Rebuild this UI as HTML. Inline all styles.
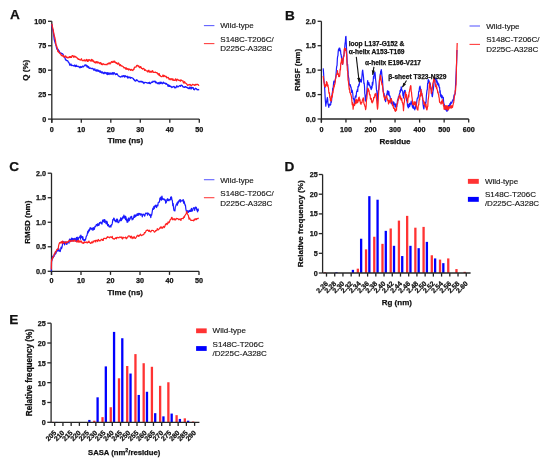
<!DOCTYPE html>
<html><head><meta charset="utf-8"><style>
html,body{margin:0;padding:0;background:#fff;width:550px;height:462px;overflow:hidden}
svg{display:block;filter:grayscale(0.0001)}
text{font-family:"Liberation Sans", sans-serif;fill:#111}
text[font-weight=bold]{stroke:#111;stroke-width:0.25px}
text[font-weight=normal]{stroke:#222;stroke-width:0.15px}
</style></head><body>
<svg width="550" height="462" viewBox="0 0 550 462">
<rect width="550" height="462" fill="#fff"/>
<text x="10.00" y="18.90" font-size="13.6" font-weight="bold" text-anchor="start" >A</text>
<line x1="51.80" y1="21.30" x2="51.80" y2="122.70" stroke="#262626" stroke-width="1.3"/>
<line x1="48.00" y1="119.10" x2="51.80" y2="119.10" stroke="#262626" stroke-width="1.3"/>
<text x="46.20" y="121.60" font-size="7.2" font-weight="bold" text-anchor="end" >0</text>
<line x1="48.00" y1="94.65" x2="51.80" y2="94.65" stroke="#262626" stroke-width="1.3"/>
<text x="46.20" y="97.15" font-size="7.2" font-weight="bold" text-anchor="end" >25</text>
<line x1="48.00" y1="70.20" x2="51.80" y2="70.20" stroke="#262626" stroke-width="1.3"/>
<text x="46.20" y="72.70" font-size="7.2" font-weight="bold" text-anchor="end" >50</text>
<line x1="48.00" y1="45.75" x2="51.80" y2="45.75" stroke="#262626" stroke-width="1.3"/>
<text x="46.20" y="48.25" font-size="7.2" font-weight="bold" text-anchor="end" >75</text>
<line x1="48.00" y1="21.30" x2="51.80" y2="21.30" stroke="#262626" stroke-width="1.3"/>
<text x="46.20" y="23.80" font-size="7.2" font-weight="bold" text-anchor="end" >100</text>
<line x1="51.80" y1="119.10" x2="199.30" y2="119.10" stroke="#262626" stroke-width="1.3"/>
<line x1="51.80" y1="119.10" x2="51.80" y2="122.70" stroke="#262626" stroke-width="1.3"/>
<text x="51.80" y="131.70" font-size="7.2" font-weight="bold" text-anchor="middle" >0</text>
<line x1="81.30" y1="119.10" x2="81.30" y2="122.70" stroke="#262626" stroke-width="1.3"/>
<text x="81.30" y="131.70" font-size="7.2" font-weight="bold" text-anchor="middle" >10</text>
<line x1="110.80" y1="119.10" x2="110.80" y2="122.70" stroke="#262626" stroke-width="1.3"/>
<text x="110.80" y="131.70" font-size="7.2" font-weight="bold" text-anchor="middle" >20</text>
<line x1="140.30" y1="119.10" x2="140.30" y2="122.70" stroke="#262626" stroke-width="1.3"/>
<text x="140.30" y="131.70" font-size="7.2" font-weight="bold" text-anchor="middle" >30</text>
<line x1="169.80" y1="119.10" x2="169.80" y2="122.70" stroke="#262626" stroke-width="1.3"/>
<text x="169.80" y="131.70" font-size="7.2" font-weight="bold" text-anchor="middle" >40</text>
<line x1="199.30" y1="119.10" x2="199.30" y2="122.70" stroke="#262626" stroke-width="1.3"/>
<text x="199.30" y="131.70" font-size="7.2" font-weight="bold" text-anchor="middle" >50</text>
<text x="125.50" y="143.40" font-size="8" font-weight="bold" text-anchor="middle" >Time (ns)</text>
<text x="0" y="0" font-size="8" font-weight="bold" text-anchor="middle" transform="translate(28.40,70.20) rotate(-90)">Q (%)</text>
<path d="M51.80,24.41 L52.50,28.90 L53.10,30.85 L53.70,34.64 L54.30,39.87 L54.82,41.59 L55.34,43.38 L55.86,44.58 L56.38,47.09 L56.90,49.01 L57.42,49.48 L57.94,49.16 L58.46,50.22 L58.98,50.67 L59.50,51.85 L60.02,52.91 L60.54,53.34 L61.06,53.05 L61.58,53.37 L62.10,53.54 L62.68,53.94 L63.27,54.79 L63.85,56.53 L64.43,57.10 L65.02,58.09 L65.60,59.98 L66.14,59.90 L66.67,60.62 L67.21,60.62 L67.75,60.85 L68.29,62.10 L68.83,62.37 L69.36,63.77 L69.90,65.40 L70.44,64.85 L70.98,63.96 L71.51,65.49 L72.05,65.39 L72.59,65.37 L73.12,65.81 L73.66,65.63 L74.20,65.78 L74.71,65.06 L75.22,66.46 L75.72,66.57 L76.23,65.12 L76.74,66.46 L77.25,66.53 L77.76,66.17 L78.27,66.46 L78.78,66.53 L79.28,67.55 L79.79,66.85 L80.30,67.66 L80.82,66.53 L81.34,67.41 L81.86,67.26 L82.38,66.20 L82.90,66.24 L83.42,66.76 L83.94,66.19 L84.46,65.53 L84.98,64.82 L85.50,64.85 L86.04,65.92 L86.58,65.18 L87.11,66.99 L87.65,66.04 L88.19,67.65 L88.72,66.77 L89.26,68.39 L89.80,68.21 L90.30,67.99 L90.80,68.21 L91.30,68.66 L91.80,68.72 L92.30,68.35 L92.80,68.33 L93.30,69.12 L93.80,70.15 L94.30,69.72 L94.80,68.81 L95.30,70.48 L95.80,70.48 L96.30,71.03 L96.80,69.78 L97.33,71.09 L97.86,69.92 L98.39,71.31 L98.92,70.75 L99.45,70.85 L99.98,72.35 L100.52,71.01 L101.05,72.04 L101.58,72.91 L102.11,71.89 L102.64,72.02 L103.17,73.56 L103.70,72.85 L104.22,73.52 L104.74,72.24 L105.26,72.99 L105.78,72.70 L106.30,73.80 L106.82,72.71 L107.34,74.54 L107.86,72.77 L108.38,74.27 L108.90,72.94 L109.42,73.37 L109.94,74.45 L110.46,73.09 L110.98,73.11 L111.50,74.08 L112.02,73.43 L112.54,72.71 L113.06,74.56 L113.58,72.84 L114.10,72.57 L114.63,73.42 L115.16,74.19 L115.69,74.68 L116.22,73.65 L116.75,74.33 L117.28,73.95 L117.82,75.01 L118.35,75.88 L118.88,76.06 L119.41,76.61 L119.94,76.55 L120.47,76.99 L121.00,76.91 L121.50,76.42 L122.00,75.90 L122.50,76.75 L123.00,76.03 L123.50,75.58 L124.00,76.25 L124.50,77.07 L125.00,75.56 L125.55,76.64 L126.10,76.44 L126.65,76.85 L127.20,76.29 L127.75,78.09 L128.30,76.87 L128.85,77.74 L129.40,77.54 L129.93,76.94 L130.45,78.22 L130.98,77.58 L131.51,77.61 L132.04,77.77 L132.56,78.22 L133.09,78.29 L133.62,79.57 L134.15,79.52 L134.67,80.67 L135.20,80.77 L135.74,81.08 L136.27,79.74 L136.81,80.35 L137.35,80.15 L137.89,81.02 L138.43,81.27 L138.96,81.81 L139.50,81.82 L140.05,81.13 L140.60,81.67 L141.15,82.09 L141.70,81.26 L142.25,81.53 L142.80,82.49 L143.35,82.11 L143.90,83.55 L144.45,82.58 L145.00,82.30 L145.55,82.46 L146.10,82.56 L146.65,82.53 L147.20,83.14 L147.75,83.03 L148.30,82.72 L148.83,83.26 L149.35,82.27 L149.88,83.53 L150.41,83.52 L150.94,82.92 L151.46,82.20 L151.99,82.23 L152.52,82.24 L153.05,81.06 L153.57,81.66 L154.10,81.75 L154.65,81.24 L155.20,81.24 L155.75,82.83 L156.30,82.13 L156.85,82.61 L157.40,83.59 L157.95,83.15 L158.50,82.68 L159.03,84.07 L159.55,82.84 L160.08,82.14 L160.61,83.47 L161.14,82.30 L161.66,82.71 L162.19,83.78 L162.72,83.45 L163.25,82.13 L163.77,83.00 L164.30,82.92 L164.84,83.40 L165.38,83.17 L165.91,84.25 L166.45,83.55 L166.99,84.29 L167.53,84.80 L168.06,86.25 L168.60,84.85 L169.15,86.43 L169.70,85.53 L170.25,86.52 L170.80,86.38 L171.35,86.75 L171.90,87.56 L172.45,87.07 L173.00,86.74 L173.55,86.62 L174.10,86.41 L174.65,87.83 L175.20,87.28 L175.75,87.79 L176.30,87.14 L176.85,85.67 L177.40,86.82 L177.94,86.92 L178.47,86.67 L179.01,86.08 L179.55,85.67 L180.09,85.73 L180.62,86.27 L181.16,85.08 L181.70,85.45 L182.25,85.62 L182.80,86.83 L183.35,86.80 L183.90,87.31 L184.45,87.38 L185.00,86.57 L185.55,86.70 L186.10,87.48 L186.65,87.07 L187.20,87.46 L187.75,88.01 L188.30,88.54 L188.85,87.92 L189.40,88.44 L189.95,87.04 L190.50,87.61 L191.04,89.02 L191.57,87.44 L192.11,88.11 L192.65,87.53 L193.19,87.70 L193.73,89.44 L194.26,89.75 L194.80,89.20 L195.35,88.27 L195.90,88.72 L196.45,88.70 L197.00,89.69 L197.55,89.82 L198.10,89.45 L198.65,89.74 L199.20,89.80" fill="none" stroke="#1a1aff" stroke-width="1.3" stroke-linejoin="round"/>
<path d="M51.80,23.98 L52.50,27.09 L53.10,29.67 L53.70,33.07 L54.30,36.05 L54.87,37.80 L55.43,40.56 L56.00,45.07 L56.60,45.95 L57.20,47.94 L57.80,51.49 L58.32,51.14 L58.84,52.57 L59.36,52.55 L59.88,53.58 L60.40,53.30 L60.90,54.64 L61.40,55.48 L61.90,55.16 L62.40,55.97 L62.90,56.20 L63.40,55.36 L63.90,57.12 L64.47,56.87 L65.03,56.37 L65.60,55.91 L66.17,57.66 L66.73,56.96 L67.30,57.54 L67.83,57.79 L68.36,57.39 L68.89,57.73 L69.42,56.61 L69.95,57.36 L70.48,56.57 L71.02,57.49 L71.55,57.30 L72.08,55.67 L72.61,55.68 L73.14,55.77 L73.67,57.20 L74.20,56.07 L74.70,56.75 L75.20,56.40 L75.70,57.11 L76.20,57.17 L76.70,57.40 L77.20,58.17 L77.70,58.47 L78.23,59.27 L78.76,58.99 L79.29,59.64 L79.82,59.66 L80.35,60.09 L80.88,59.61 L81.42,58.76 L81.95,60.31 L82.48,60.68 L83.01,60.72 L83.54,60.22 L84.07,60.67 L84.60,59.82 L85.10,61.06 L85.60,60.55 L86.10,59.97 L86.60,59.53 L87.10,61.11 L87.60,61.38 L88.10,59.58 L88.60,61.00 L89.10,60.22 L89.60,59.70 L90.10,59.99 L90.60,60.94 L91.10,61.15 L91.60,59.49 L92.13,60.84 L92.66,59.91 L93.19,61.46 L93.72,60.89 L94.25,62.20 L94.78,62.61 L95.32,61.86 L95.85,63.06 L96.38,61.89 L96.91,61.63 L97.44,62.88 L97.97,61.96 L98.50,62.49 L99.03,63.02 L99.56,63.52 L100.09,62.71 L100.62,62.58 L101.15,64.34 L101.68,63.33 L102.22,64.72 L102.75,64.69 L103.28,63.76 L103.81,64.02 L104.34,64.24 L104.87,64.59 L105.40,64.59 L105.91,64.37 L106.42,64.33 L106.94,64.82 L107.45,63.80 L107.96,63.50 L108.47,63.92 L108.98,62.80 L109.49,62.78 L110.01,63.98 L110.52,62.91 L111.03,62.81 L111.54,61.59 L112.05,62.24 L112.56,62.42 L113.08,61.15 L113.59,62.18 L114.10,62.06 L114.62,61.18 L115.14,62.57 L115.66,62.51 L116.18,63.20 L116.70,62.81 L117.22,63.77 L117.74,64.10 L118.26,62.92 L118.78,63.26 L119.30,64.75 L119.82,65.68 L120.34,64.61 L120.85,65.38 L121.37,66.00 L121.89,65.81 L122.41,66.26 L122.93,66.51 L123.45,66.97 L123.96,67.78 L124.48,67.55 L125.00,68.05 L125.52,69.00 L126.04,67.67 L126.56,68.91 L127.09,69.40 L127.61,68.71 L128.13,68.69 L128.65,70.01 L129.17,69.03 L129.69,69.09 L130.21,69.74 L130.74,70.42 L131.26,69.39 L131.78,69.99 L132.30,70.17 L132.84,70.57 L133.38,69.18 L133.91,69.41 L134.45,67.44 L134.99,67.17 L135.53,67.20 L136.06,67.07 L136.60,65.60 L137.15,65.38 L137.70,65.39 L138.25,66.43 L138.80,65.98 L139.35,67.44 L139.90,67.73 L140.45,66.64 L141.00,67.06 L141.53,68.45 L142.05,68.46 L142.58,69.12 L143.11,68.54 L143.64,68.44 L144.16,69.10 L144.69,70.44 L145.22,69.73 L145.75,70.22 L146.27,70.70 L146.80,71.04 L147.33,71.02 L147.85,72.04 L148.38,70.51 L148.91,70.21 L149.44,72.09 L149.96,71.96 L150.49,72.17 L151.02,71.07 L151.55,72.10 L152.07,72.05 L152.60,70.64 L153.15,71.97 L153.70,72.42 L154.25,72.35 L154.80,72.34 L155.35,72.15 L155.90,72.53 L156.45,72.58 L157.00,72.54 L157.55,73.88 L158.10,73.57 L158.65,74.92 L159.20,73.69 L159.75,75.71 L160.30,75.59 L160.85,76.35 L161.40,76.59 L161.94,76.66 L162.47,76.08 L163.01,75.01 L163.55,76.54 L164.09,75.46 L164.62,75.77 L165.16,76.56 L165.70,76.35 L166.25,76.49 L166.80,77.90 L167.35,77.61 L167.90,77.43 L168.45,77.62 L169.00,79.20 L169.55,78.79 L170.10,79.76 L170.65,78.95 L171.20,78.69 L171.75,79.42 L172.30,80.03 L172.85,78.79 L173.40,80.08 L173.95,80.39 L174.50,80.21 L175.03,80.34 L175.55,78.80 L176.08,80.13 L176.61,80.69 L177.14,79.15 L177.66,79.69 L178.19,79.77 L178.72,80.38 L179.25,80.26 L179.77,80.45 L180.30,81.15 L180.84,79.84 L181.38,80.18 L181.91,80.57 L182.45,80.80 L182.99,80.92 L183.53,82.97 L184.06,82.97 L184.60,81.67 L185.18,83.00 L185.76,83.13 L186.34,83.63 L186.92,84.20 L187.50,85.29 L188.05,85.22 L188.60,84.82 L189.15,84.53 L189.70,84.86 L190.25,84.50 L190.80,85.41 L191.35,85.78 L191.90,85.16 L192.45,84.42 L193.00,84.48 L193.55,84.73 L194.10,85.06 L194.65,85.28 L195.20,84.34 L195.75,85.04 L196.30,84.55 L196.88,84.30 L197.46,84.32 L198.04,84.71 L198.62,85.27 L199.20,85.00" fill="none" stroke="#ff2020" stroke-width="1.3" stroke-linejoin="round"/>
<line x1="203.90" y1="25.60" x2="214.40" y2="25.60" stroke="#6060ff" stroke-width="1.1"/>
<line x1="203.90" y1="43.60" x2="214.40" y2="43.60" stroke="#ff4040" stroke-width="1.1"/>
<text x="220.30" y="28.40" font-size="8" font-weight="normal" text-anchor="start" >Wild-type</text>
<text x="220.30" y="41.60" font-size="8" font-weight="normal" text-anchor="start" >S148C-T206C/</text>
<text x="220.30" y="51.40" font-size="8" font-weight="normal" text-anchor="start" >D225C-A328C</text>
<text x="285.00" y="19.90" font-size="13.6" font-weight="bold" text-anchor="start" >B</text>
<line x1="321.40" y1="21.30" x2="321.40" y2="122.60" stroke="#262626" stroke-width="1.3"/>
<line x1="317.60" y1="119.00" x2="321.40" y2="119.00" stroke="#262626" stroke-width="1.3"/>
<text x="315.80" y="121.50" font-size="7.2" font-weight="bold" text-anchor="end" >0.0</text>
<line x1="317.60" y1="94.58" x2="321.40" y2="94.58" stroke="#262626" stroke-width="1.3"/>
<text x="315.80" y="97.08" font-size="7.2" font-weight="bold" text-anchor="end" >0.5</text>
<line x1="317.60" y1="70.15" x2="321.40" y2="70.15" stroke="#262626" stroke-width="1.3"/>
<text x="315.80" y="72.65" font-size="7.2" font-weight="bold" text-anchor="end" >1.0</text>
<line x1="317.60" y1="45.72" x2="321.40" y2="45.72" stroke="#262626" stroke-width="1.3"/>
<text x="315.80" y="48.22" font-size="7.2" font-weight="bold" text-anchor="end" >1.5</text>
<line x1="317.60" y1="21.30" x2="321.40" y2="21.30" stroke="#262626" stroke-width="1.3"/>
<text x="315.80" y="23.80" font-size="7.2" font-weight="bold" text-anchor="end" >2.0</text>
<line x1="321.40" y1="119.00" x2="468.70" y2="119.00" stroke="#262626" stroke-width="1.3"/>
<line x1="321.40" y1="119.00" x2="321.40" y2="122.60" stroke="#262626" stroke-width="1.3"/>
<text x="321.40" y="131.60" font-size="7.2" font-weight="bold" text-anchor="middle" >0</text>
<line x1="345.95" y1="119.00" x2="345.95" y2="122.60" stroke="#262626" stroke-width="1.3"/>
<text x="345.95" y="131.60" font-size="7.2" font-weight="bold" text-anchor="middle" >100</text>
<line x1="370.50" y1="119.00" x2="370.50" y2="122.60" stroke="#262626" stroke-width="1.3"/>
<text x="370.50" y="131.60" font-size="7.2" font-weight="bold" text-anchor="middle" >200</text>
<line x1="395.05" y1="119.00" x2="395.05" y2="122.60" stroke="#262626" stroke-width="1.3"/>
<text x="395.05" y="131.60" font-size="7.2" font-weight="bold" text-anchor="middle" >300</text>
<line x1="419.60" y1="119.00" x2="419.60" y2="122.60" stroke="#262626" stroke-width="1.3"/>
<text x="419.60" y="131.60" font-size="7.2" font-weight="bold" text-anchor="middle" >400</text>
<line x1="444.15" y1="119.00" x2="444.15" y2="122.60" stroke="#262626" stroke-width="1.3"/>
<text x="444.15" y="131.60" font-size="7.2" font-weight="bold" text-anchor="middle" >500</text>
<line x1="468.70" y1="119.00" x2="468.70" y2="122.60" stroke="#262626" stroke-width="1.3"/>
<text x="468.70" y="131.60" font-size="7.2" font-weight="bold" text-anchor="middle" >600</text>
<text x="395.00" y="143.60" font-size="8" font-weight="bold" text-anchor="middle" >Residue</text>
<text x="0" y="0" font-size="8" font-weight="bold" text-anchor="middle" transform="translate(300.30,70.00) rotate(-90)">RMSF (nm)</text>
<path d="M323.20,68.34 L323.57,72.92 L323.93,79.38 L324.30,83.48 L324.60,87.09 L324.90,92.57 L325.20,98.84 L325.50,102.32 L325.80,106.17 L326.12,102.62 L326.44,102.84 L326.76,100.54 L327.08,98.92 L327.40,97.47 L327.68,99.30 L327.96,103.80 L328.24,104.73 L328.52,105.99 L328.80,107.32 L329.11,104.15 L329.43,104.16 L329.74,105.06 L330.05,105.02 L330.36,105.06 L330.68,104.67 L330.99,100.68 L331.30,102.47 L331.59,100.33 L331.88,97.18 L332.16,93.31 L332.45,92.18 L332.74,88.07 L333.03,89.36 L333.31,86.63 L333.60,82.81 L333.89,81.16 L334.17,83.28 L334.46,81.25 L334.74,82.05 L335.03,81.35 L335.31,79.29 L335.60,78.32 L335.89,76.22 L336.18,72.56 L336.47,68.45 L336.76,66.16 L337.05,65.48 L337.34,59.17 L337.63,56.26 L337.92,55.90 L338.21,51.45 L338.50,49.65 L338.80,49.07 L339.10,48.21 L339.40,50.79 L339.77,48.19 L340.13,50.08 L340.50,50.09 L340.82,54.10 L341.13,54.65 L341.45,57.12 L341.77,60.95 L342.08,61.19 L342.40,64.36 L342.69,64.06 L342.97,58.72 L343.26,56.73 L343.54,55.65 L343.83,56.20 L344.11,53.72 L344.40,50.24 L344.72,47.50 L345.04,43.66 L345.36,41.74 L345.68,36.75 L346.00,36.47 L346.32,44.22 L346.65,51.35 L346.98,57.26 L347.30,65.12 L347.62,64.23 L347.93,68.67 L348.25,74.90 L348.57,77.31 L348.88,78.96 L349.20,84.55 L349.50,84.11 L349.80,85.96 L350.10,84.63 L350.40,85.16 L350.70,87.25 L351.00,86.88 L351.30,88.94 L351.60,92.47 L351.90,90.68 L352.20,90.24 L352.52,92.01 L352.83,94.18 L353.15,98.50 L353.47,98.26 L353.78,99.56 L354.10,100.33 L354.39,103.39 L354.67,100.11 L354.96,98.33 L355.24,96.85 L355.53,96.00 L355.81,95.67 L356.10,97.08 L356.43,93.19 L356.77,91.15 L357.10,91.56 L357.40,89.30 L357.70,91.39 L358.00,86.34 L358.30,86.93 L358.60,86.80 L358.90,84.00 L359.20,85.35 L359.50,82.70 L359.80,81.26 L360.10,81.61 L360.40,79.56 L360.70,80.85 L361.00,79.69 L361.30,82.11 L361.65,79.56 L362.00,75.79 L362.35,71.44 L362.70,70.12 L363.00,72.75 L363.30,75.28 L363.60,78.06 L363.90,83.55 L364.20,83.02 L364.48,86.01 L364.76,93.24 L365.04,95.03 L365.32,100.28 L365.60,101.07 L365.90,100.45 L366.20,96.55 L366.50,94.34 L366.80,91.32 L367.10,87.40 L367.40,82.82 L367.70,80.53 L368.00,83.84 L368.30,84.36 L368.60,84.87 L368.90,82.68 L369.20,84.49 L369.50,85.52 L369.80,85.23 L370.15,87.04 L370.50,86.82 L370.85,88.43 L371.20,89.62 L371.48,86.66 L371.76,88.42 L372.04,87.45 L372.32,82.45 L372.60,85.27 L372.90,83.62 L373.20,80.71 L373.50,76.35 L373.80,78.50 L374.10,73.49 L374.40,75.58 L374.70,72.64 L374.98,72.23 L375.26,74.96 L375.54,79.27 L375.82,81.24 L376.10,84.28 L376.45,89.66 L376.80,91.11 L377.15,94.74 L377.50,103.36 L377.80,96.13 L378.10,96.70 L378.40,90.12 L378.70,89.95 L379.00,86.60 L379.30,83.79 L379.60,79.12 L379.88,78.82 L380.17,74.09 L380.45,74.40 L380.73,71.15 L381.02,71.87 L381.30,69.60 L381.62,71.91 L381.93,75.78 L382.25,77.22 L382.57,80.88 L382.88,86.98 L383.20,90.15 L383.50,93.42 L383.80,93.90 L384.10,93.45 L384.40,96.05 L384.70,99.45 L385.00,99.99 L385.30,99.35 L385.60,101.57 L385.90,100.11 L386.20,95.43 L386.50,96.03 L386.80,93.91 L387.10,94.28 L387.40,90.77 L387.70,90.83 L388.00,92.34 L388.30,94.85 L388.60,91.42 L388.90,91.90 L389.20,94.53 L389.50,96.10 L389.80,95.67 L390.10,96.54 L390.40,99.62 L390.70,100.47 L391.00,98.57 L391.30,103.36 L391.60,101.56 L391.90,102.13 L392.20,104.58 L392.50,102.86 L392.80,104.61 L393.10,101.94 L393.40,105.15 L393.70,102.18 L393.98,102.41 L394.26,104.27 L394.54,103.94 L394.82,105.18 L395.10,107.13 L395.38,106.63 L395.66,103.87 L395.94,105.57 L396.22,106.95 L396.50,107.04 L396.81,106.43 L397.13,103.80 L397.44,100.39 L397.76,99.52 L398.07,100.56 L398.39,96.78 L398.70,96.97 L398.98,97.03 L399.26,94.54 L399.54,93.85 L399.82,92.64 L400.10,90.43 L400.38,92.16 L400.66,89.28 L400.94,90.33 L401.22,86.75 L401.50,88.32 L401.79,89.48 L402.07,90.23 L402.36,90.99 L402.64,91.18 L402.93,95.46 L403.21,95.18 L403.50,98.01 L403.85,93.91 L404.20,91.91 L404.55,90.41 L404.90,91.56 L405.18,90.48 L405.46,95.37 L405.74,94.74 L406.02,97.33 L406.30,98.04 L406.61,100.63 L406.93,99.71 L407.24,102.47 L407.56,106.22 L407.87,104.29 L408.19,107.78 L408.50,107.74 L408.80,106.62 L409.10,104.40 L409.40,103.39 L409.70,106.48 L410.00,104.95 L410.30,103.82 L410.60,102.85 L410.90,104.09 L411.20,101.20 L411.50,103.67 L411.80,103.88 L412.10,104.83 L412.40,107.03 L412.70,106.85 L413.00,108.16 L413.30,104.81 L413.60,107.57 L413.90,108.07 L414.20,108.78 L414.50,108.62 L414.80,109.96 L415.10,106.63 L415.40,108.38 L415.70,105.09 L416.00,104.94 L416.30,105.25 L416.60,103.40 L416.90,100.66 L417.18,98.90 L417.46,97.92 L417.74,97.83 L418.02,98.04 L418.30,96.21 L418.58,92.60 L418.86,91.19 L419.14,91.62 L419.42,87.86 L419.70,87.01 L420.00,86.06 L420.30,87.61 L420.60,89.98 L420.90,91.45 L421.20,91.90 L421.50,91.60 L421.80,94.98 L422.10,95.76 L422.40,95.92 L422.70,97.74 L423.00,103.94 L423.30,106.22 L423.60,108.13 L423.90,108.96 L424.21,106.47 L424.53,104.30 L424.84,103.83 L425.16,102.48 L425.47,104.38 L425.79,103.03 L426.10,101.32 L426.40,95.53 L426.70,92.89 L427.00,90.13 L427.30,89.96 L427.60,83.48 L427.90,83.21 L428.20,79.70 L428.50,80.12 L428.80,82.95 L429.10,80.90 L429.40,83.06 L429.70,82.46 L430.00,83.21 L430.30,83.94 L430.60,86.59 L430.90,87.14 L431.20,88.27 L431.50,93.77 L431.80,92.07 L432.10,96.12 L432.40,96.69 L432.70,94.20 L433.00,91.25 L433.30,89.95 L433.60,87.01 L433.90,83.69 L434.20,80.38 L434.50,78.35 L434.80,79.10 L435.10,78.96 L435.40,79.35 L435.70,78.44 L436.00,82.09 L436.30,81.12 L436.60,79.90 L436.90,80.74 L437.20,84.25 L437.50,81.93 L437.80,82.92 L438.10,84.60 L438.40,85.79 L438.70,83.85 L439.00,85.70 L439.30,87.46 L439.60,87.32 L439.90,92.66 L440.20,90.48 L440.50,96.22 L440.80,94.27 L441.11,94.50 L441.43,97.76 L441.74,97.87 L442.06,95.48 L442.37,97.11 L442.69,96.98 L443.00,98.26 L443.30,97.41 L443.60,101.73 L443.90,103.98 L444.20,104.21 L444.50,106.65 L444.80,108.22 L445.10,107.27 L445.40,109.64 L445.70,109.90 L446.00,109.13 L446.30,107.33 L446.60,109.90 L446.90,111.50 L447.20,109.14 L447.50,110.03 L447.80,110.52 L448.10,108.60 L448.40,105.51 L448.70,107.51 L449.00,105.24 L449.30,107.28 L449.60,105.81 L449.90,103.65 L450.20,105.64 L450.50,103.85 L450.80,101.99 L451.10,103.57 L451.40,103.22 L451.70,102.83 L452.00,102.39 L452.30,101.00 L452.60,100.77 L452.90,99.96 L453.20,99.22 L453.50,100.84 L453.78,97.10 L454.07,94.96 L454.35,96.79 L454.63,94.89 L454.92,94.15 L455.20,93.43 L455.57,84.87 L455.93,77.62 L456.30,70.01 L456.65,62.19 L457.00,50.00" fill="none" stroke="#1a1aff" stroke-width="1.2" stroke-linejoin="round"/>
<path d="M323.20,76.04 L323.48,78.40 L323.77,80.47 L324.05,82.95 L324.33,83.89 L324.62,86.52 L324.90,84.43 L325.22,85.70 L325.53,87.15 L325.85,85.21 L326.17,85.66 L326.48,81.55 L326.80,82.46 L327.09,82.60 L327.37,85.02 L327.66,86.27 L327.94,84.91 L328.23,86.93 L328.51,88.32 L328.80,92.23 L329.12,93.52 L329.43,92.80 L329.75,97.56 L330.07,96.61 L330.38,100.67 L330.70,100.46 L330.99,98.51 L331.28,100.93 L331.57,96.62 L331.86,95.25 L332.14,97.22 L332.43,95.34 L332.72,91.37 L333.01,92.93 L333.30,89.67 L333.62,88.82 L333.93,85.27 L334.25,87.04 L334.57,84.47 L334.88,84.22 L335.20,82.43 L335.49,78.84 L335.77,78.14 L336.06,76.31 L336.35,75.24 L336.64,73.91 L336.93,73.98 L337.21,74.33 L337.50,70.71 L337.79,74.24 L338.07,73.30 L338.36,73.74 L338.64,76.53 L338.93,75.60 L339.21,75.43 L339.50,76.72 L339.82,74.77 L340.13,68.98 L340.45,70.09 L340.77,62.97 L341.08,63.23 L341.40,60.72 L341.72,58.26 L342.04,62.83 L342.36,62.15 L342.68,64.27 L343.00,62.94 L343.32,59.49 L343.64,56.46 L343.96,56.24 L344.28,49.28 L344.60,48.13 L344.88,49.62 L345.17,50.41 L345.45,48.52 L345.73,49.29 L346.02,50.78 L346.30,52.61 L346.59,54.13 L346.87,61.41 L347.16,66.08 L347.44,70.81 L347.73,71.65 L348.01,80.10 L348.30,80.80 L348.62,83.53 L348.93,86.35 L349.25,89.34 L349.57,88.43 L349.88,92.63 L350.20,92.60 L350.49,93.03 L350.78,94.51 L351.07,95.36 L351.36,96.38 L351.65,98.16 L351.94,101.99 L352.23,104.81 L352.52,102.59 L352.81,103.55 L353.10,109.14 L353.40,106.57 L353.70,105.43 L354.00,104.10 L354.30,105.09 L354.60,105.54 L354.90,103.32 L355.20,102.60 L355.50,100.41 L355.80,103.61 L356.10,99.14 L356.43,101.27 L356.77,102.89 L357.10,99.87 L357.40,102.12 L357.70,102.68 L358.00,100.87 L358.30,101.17 L358.60,97.77 L358.90,98.81 L359.20,97.16 L359.50,100.82 L359.80,99.00 L360.10,100.29 L360.40,103.30 L360.70,103.25 L361.00,104.39 L361.30,102.70 L361.61,102.25 L361.93,102.71 L362.24,101.01 L362.56,99.58 L362.87,99.48 L363.19,97.74 L363.50,98.16 L363.80,102.55 L364.10,104.12 L364.40,104.36 L364.70,105.50 L365.00,106.49 L365.30,107.09 L365.60,109.60 L365.90,108.53 L366.20,105.59 L366.50,100.05 L366.80,98.60 L367.10,95.24 L367.40,91.57 L367.70,88.12 L368.00,89.54 L368.30,88.80 L368.60,91.30 L368.90,90.44 L369.20,92.34 L369.50,94.59 L369.80,95.24 L370.10,94.71 L370.40,98.79 L370.70,98.70 L371.00,99.61 L371.30,98.32 L371.60,101.89 L371.90,101.80 L372.20,102.86 L372.50,101.14 L372.80,101.89 L373.10,100.35 L373.40,100.21 L373.70,97.43 L374.00,97.93 L374.30,97.53 L374.60,97.12 L374.90,94.20 L375.20,95.55 L375.50,94.86 L375.80,93.24 L376.10,93.69 L376.45,98.36 L376.80,101.18 L377.15,105.98 L377.50,109.13 L377.78,107.51 L378.07,103.39 L378.35,96.80 L378.63,93.18 L378.92,88.73 L379.20,84.21 L379.50,79.63 L379.80,80.18 L380.10,77.18 L380.40,75.43 L380.70,76.17 L381.00,78.87 L381.30,81.35 L381.60,82.56 L381.90,84.74 L382.20,83.51 L382.50,85.90 L382.80,88.95 L383.10,91.69 L383.40,91.61 L383.70,95.48 L384.00,97.05 L384.30,96.27 L384.60,99.97 L384.90,98.50 L385.20,97.34 L385.50,97.29 L385.80,97.70 L386.10,96.70 L386.40,96.35 L386.70,95.26 L387.00,97.95 L387.30,98.37 L387.60,100.19 L387.90,100.90 L388.20,100.15 L388.50,103.87 L388.80,100.70 L389.08,102.20 L389.36,101.37 L389.64,101.66 L389.92,100.09 L390.20,102.96 L390.48,100.67 L390.76,98.90 L391.04,101.16 L391.32,98.60 L391.60,100.30 L391.91,100.48 L392.22,102.63 L392.53,105.38 L392.84,105.86 L393.16,105.19 L393.47,108.01 L393.78,108.35 L394.09,108.24 L394.40,108.33 L394.70,110.12 L395.00,109.78 L395.30,111.31 L395.60,111.16 L395.90,109.38 L396.20,108.04 L396.50,110.23 L396.81,104.70 L397.13,103.57 L397.44,103.99 L397.76,102.61 L398.07,98.92 L398.39,99.47 L398.70,99.02 L399.02,96.38 L399.35,96.25 L399.68,94.97 L400.00,94.88 L400.30,98.49 L400.60,96.50 L400.90,99.67 L401.20,100.08 L401.50,99.29 L401.80,98.43 L402.10,102.22 L402.45,102.18 L402.80,103.93 L403.15,105.60 L403.50,110.63 L403.80,106.25 L404.10,103.13 L404.40,101.76 L404.70,97.98 L405.00,97.96 L405.30,94.97 L405.60,92.09 L405.90,95.45 L406.20,96.87 L406.50,94.50 L406.80,98.00 L407.10,98.08 L407.40,102.20 L407.70,102.74 L407.99,98.69 L408.28,97.10 L408.57,94.91 L408.86,96.89 L409.15,92.14 L409.44,91.84 L409.73,89.56 L410.02,88.62 L410.31,86.75 L410.60,85.67 L410.90,85.73 L411.20,91.37 L411.50,92.17 L411.80,96.00 L412.10,97.95 L412.40,100.59 L412.70,104.43 L412.98,104.00 L413.26,103.41 L413.54,104.96 L413.82,104.14 L414.10,101.56 L414.38,102.37 L414.66,103.12 L414.94,105.01 L415.22,104.75 L415.50,103.10 L415.80,101.76 L416.10,106.12 L416.40,105.58 L416.70,107.23 L417.00,108.82 L417.30,109.48 L417.60,109.82 L417.89,110.07 L418.18,106.11 L418.48,104.50 L418.77,104.88 L419.06,100.36 L419.35,99.15 L419.64,99.86 L419.93,94.86 L420.23,96.60 L420.52,94.34 L420.81,91.55 L421.10,89.26 L421.40,93.05 L421.70,95.24 L422.00,93.47 L422.30,96.56 L422.60,98.49 L422.90,99.88 L423.20,100.76 L423.51,100.58 L423.83,103.08 L424.14,104.67 L424.46,102.00 L424.77,103.31 L425.09,106.51 L425.40,106.98 L425.70,106.82 L426.00,104.41 L426.30,107.88 L426.60,109.41 L426.90,109.89 L427.20,108.99 L427.50,106.52 L427.80,106.39 L428.10,100.04 L428.40,98.30 L428.70,96.03 L429.00,91.36 L429.30,85.21 L429.60,82.29 L429.90,86.64 L430.20,84.86 L430.50,88.49 L430.80,89.22 L431.10,89.71 L431.40,93.34 L431.70,92.39 L432.00,90.26 L432.30,89.04 L432.60,85.27 L432.90,82.80 L433.20,82.66 L433.50,80.98 L433.80,79.17 L434.10,77.11 L434.40,79.63 L434.70,80.33 L435.00,82.80 L435.30,83.53 L435.60,86.72 L435.90,85.45 L436.20,84.85 L436.50,88.47 L436.80,86.86 L437.10,89.78 L437.40,90.03 L437.70,92.61 L438.00,91.84 L438.30,93.95 L438.60,94.19 L438.90,97.27 L439.20,97.78 L439.50,101.77 L439.80,102.56 L440.10,102.69 L440.41,102.73 L440.73,102.93 L441.04,104.14 L441.36,101.29 L441.67,103.24 L441.99,102.58 L442.30,99.68 L442.60,103.24 L442.90,101.70 L443.20,102.85 L443.50,105.91 L443.80,105.35 L444.10,109.16 L444.40,108.41 L444.70,107.52 L445.00,109.40 L445.30,105.83 L445.60,108.69 L445.90,105.54 L446.20,105.76 L446.50,109.09 L446.80,108.10 L447.10,106.28 L447.40,106.01 L447.70,109.98 L448.00,108.83 L448.30,109.71 L448.60,106.91 L448.90,108.85 L449.20,107.46 L449.50,106.73 L449.80,106.97 L450.10,108.00 L450.40,106.63 L450.70,106.60 L451.00,105.30 L451.30,108.16 L451.60,107.15 L451.90,107.64 L452.20,105.81 L452.50,107.45 L452.80,105.78 L453.10,104.69 L453.40,103.19 L453.70,102.51 L454.00,99.58 L454.30,96.86 L454.60,95.16 L454.90,94.49 L455.20,90.62 L455.50,91.21 L455.80,86.27 L456.10,84.35 L456.45,66.90 L456.80,54.87 L457.20,43.00" fill="none" stroke="#ff2020" stroke-width="1.2" stroke-linejoin="round"/>
<text x="348.70" y="45.90" font-size="6.6" font-weight="bold" text-anchor="start" >loop L137-G152 &amp;</text>
<text x="348.70" y="53.80" font-size="6.6" font-weight="bold" text-anchor="start" >α-helix A153-T169</text>
<text x="364.90" y="65.00" font-size="6.6" font-weight="bold" text-anchor="start" >α-helix E196-V217</text>
<text x="388.20" y="78.80" font-size="6.6" font-weight="bold" text-anchor="start" >β-sheet T323-N329</text>
<line x1="356.30" y1="56.90" x2="359.20" y2="82.20" stroke="#111" stroke-width="1.1"/>
<path d="M359.20,82.20 L357.12,78.11 L360.30,77.75 Z" fill="#111"/>
<line x1="373.90" y1="66.90" x2="372.70" y2="74.80" stroke="#111" stroke-width="1.1"/>
<path d="M372.70,74.80 L371.76,70.31 L374.93,70.79 Z" fill="#111"/>
<line x1="406.50" y1="80.50" x2="402.40" y2="87.30" stroke="#111" stroke-width="1.1"/>
<path d="M402.40,87.30 L403.25,82.79 L405.99,84.44 Z" fill="#111"/>
<line x1="469.50" y1="26.00" x2="480.00" y2="26.00" stroke="#6060ff" stroke-width="1.1"/>
<line x1="469.50" y1="44.40" x2="480.00" y2="44.40" stroke="#ff4040" stroke-width="1.1"/>
<text x="486.20" y="28.80" font-size="8" font-weight="normal" text-anchor="start" >Wild-type</text>
<text x="486.20" y="42.40" font-size="8" font-weight="normal" text-anchor="start" >S148C-T206C/</text>
<text x="486.20" y="52.20" font-size="8" font-weight="normal" text-anchor="start" >D225C-A328C</text>
<text x="9.30" y="171.00" font-size="13.6" font-weight="bold" text-anchor="start" >C</text>
<line x1="51.50" y1="173.20" x2="51.50" y2="274.90" stroke="#262626" stroke-width="1.3"/>
<line x1="47.70" y1="271.30" x2="51.50" y2="271.30" stroke="#262626" stroke-width="1.3"/>
<text x="45.90" y="273.80" font-size="7.2" font-weight="bold" text-anchor="end" >0.0</text>
<line x1="47.70" y1="246.78" x2="51.50" y2="246.78" stroke="#262626" stroke-width="1.3"/>
<text x="45.90" y="249.28" font-size="7.2" font-weight="bold" text-anchor="end" >0.5</text>
<line x1="47.70" y1="222.25" x2="51.50" y2="222.25" stroke="#262626" stroke-width="1.3"/>
<text x="45.90" y="224.75" font-size="7.2" font-weight="bold" text-anchor="end" >1.0</text>
<line x1="47.70" y1="197.73" x2="51.50" y2="197.73" stroke="#262626" stroke-width="1.3"/>
<text x="45.90" y="200.23" font-size="7.2" font-weight="bold" text-anchor="end" >1.5</text>
<line x1="47.70" y1="173.20" x2="51.50" y2="173.20" stroke="#262626" stroke-width="1.3"/>
<text x="45.90" y="175.70" font-size="7.2" font-weight="bold" text-anchor="end" >2.0</text>
<line x1="51.50" y1="271.30" x2="199.00" y2="271.30" stroke="#262626" stroke-width="1.3"/>
<line x1="51.50" y1="271.30" x2="51.50" y2="274.90" stroke="#262626" stroke-width="1.3"/>
<text x="51.50" y="283.40" font-size="7.2" font-weight="bold" text-anchor="middle" >0</text>
<line x1="81.00" y1="271.30" x2="81.00" y2="274.90" stroke="#262626" stroke-width="1.3"/>
<text x="81.00" y="283.40" font-size="7.2" font-weight="bold" text-anchor="middle" >10</text>
<line x1="110.50" y1="271.30" x2="110.50" y2="274.90" stroke="#262626" stroke-width="1.3"/>
<text x="110.50" y="283.40" font-size="7.2" font-weight="bold" text-anchor="middle" >20</text>
<line x1="140.00" y1="271.30" x2="140.00" y2="274.90" stroke="#262626" stroke-width="1.3"/>
<text x="140.00" y="283.40" font-size="7.2" font-weight="bold" text-anchor="middle" >30</text>
<line x1="169.50" y1="271.30" x2="169.50" y2="274.90" stroke="#262626" stroke-width="1.3"/>
<text x="169.50" y="283.40" font-size="7.2" font-weight="bold" text-anchor="middle" >40</text>
<line x1="199.00" y1="271.30" x2="199.00" y2="274.90" stroke="#262626" stroke-width="1.3"/>
<text x="199.00" y="283.40" font-size="7.2" font-weight="bold" text-anchor="middle" >50</text>
<text x="125.30" y="295.10" font-size="8" font-weight="bold" text-anchor="middle" >Time (ns)</text>
<text x="0" y="0" font-size="8" font-weight="bold" text-anchor="middle" transform="translate(29.60,222.20) rotate(-90)">RMSD (nm)</text>
<path d="M51.30,271.17 L51.50,262.19 L51.92,259.93 L52.35,258.12 L52.77,256.16 L53.20,257.90 L53.62,256.22 L54.05,256.46 L54.48,254.01 L54.90,254.68 L55.30,252.18 L55.70,253.78 L56.10,252.98 L56.50,251.21 L56.90,251.19 L57.30,251.25 L57.70,248.78 L58.10,249.71 L58.52,250.85 L58.93,248.83 L59.35,251.11 L59.77,250.78 L60.18,251.54 L60.60,249.64 L61.08,247.21 L61.56,248.58 L62.04,247.14 L62.52,244.24 L63.00,241.38 L63.40,241.79 L63.80,243.54 L64.20,242.16 L64.60,244.81 L65.00,243.35 L65.40,241.80 L65.80,243.62 L66.20,242.44 L66.61,244.46 L67.02,244.10 L67.42,242.26 L67.83,242.51 L68.24,242.46 L68.65,242.62 L69.06,243.04 L69.47,238.98 L69.88,240.05 L70.28,240.74 L70.69,239.28 L71.10,240.16 L71.51,238.16 L71.92,241.32 L72.32,239.90 L72.73,238.27 L73.14,240.45 L73.55,239.05 L73.96,238.58 L74.37,239.73 L74.78,238.35 L75.18,238.64 L75.59,241.26 L76.00,240.59 L76.41,237.61 L76.81,240.44 L77.22,237.16 L77.63,238.19 L78.04,240.24 L78.44,238.87 L78.85,237.37 L79.26,237.42 L79.66,237.24 L80.07,235.95 L80.48,239.21 L80.89,235.19 L81.29,236.43 L81.70,237.49 L82.10,236.50 L82.50,239.25 L82.90,236.72 L83.30,240.07 L83.70,240.13 L84.10,239.66 L84.50,240.95 L84.90,239.59 L85.31,240.15 L85.72,239.02 L86.13,236.93 L86.54,235.76 L86.95,235.72 L87.36,233.56 L87.77,231.28 L88.18,232.95 L88.59,230.04 L89.00,229.95 L89.44,230.99 L89.87,228.40 L90.31,227.65 L90.75,227.91 L91.18,229.63 L91.62,228.57 L92.05,228.01 L92.49,228.64 L92.93,230.40 L93.36,227.56 L93.80,228.04 L94.21,229.51 L94.62,228.03 L95.03,226.25 L95.43,226.67 L95.84,226.27 L96.25,224.52 L96.66,225.05 L97.07,224.36 L97.47,225.94 L97.88,223.61 L98.29,224.55 L98.70,225.38 L99.11,225.04 L99.51,222.70 L99.92,223.46 L100.33,222.18 L100.73,222.34 L101.14,222.55 L101.54,223.62 L101.95,224.05 L102.36,221.31 L102.76,220.02 L103.17,221.65 L103.58,219.93 L103.98,219.67 L104.39,222.49 L104.79,219.70 L105.20,221.97 L105.61,221.01 L106.01,223.78 L106.42,223.91 L106.83,221.21 L107.24,222.19 L107.64,225.68 L108.05,224.80 L108.46,224.50 L108.86,226.41 L109.27,227.00 L109.68,226.17 L110.09,226.55 L110.49,225.54 L110.90,227.05 L111.38,224.56 L111.86,224.86 L112.34,223.17 L112.82,219.70 L113.30,220.01 L113.71,218.02 L114.12,218.19 L114.53,220.48 L114.93,219.88 L115.34,221.77 L115.75,220.82 L116.16,221.24 L116.57,219.07 L116.97,222.03 L117.38,219.17 L117.79,221.44 L118.20,222.75 L118.61,222.42 L119.01,222.06 L119.42,219.99 L119.83,220.65 L120.23,220.73 L120.64,217.81 L121.04,220.73 L121.45,220.29 L121.86,218.11 L122.26,219.15 L122.67,217.52 L123.08,216.53 L123.48,217.97 L123.89,215.07 L124.29,217.71 L124.70,218.11 L125.12,216.08 L125.53,219.43 L125.95,216.73 L126.37,220.57 L126.78,218.99 L127.20,222.46 L127.60,220.09 L128.00,221.82 L128.40,218.03 L128.80,218.01 L129.20,220.70 L129.60,219.75 L130.00,219.11 L130.40,216.86 L130.80,217.19 L131.24,217.76 L131.68,216.27 L132.12,219.81 L132.56,218.68 L133.00,219.20 L133.44,217.98 L133.88,216.33 L134.32,215.05 L134.76,217.45 L135.20,214.76 L135.63,216.34 L136.06,215.86 L136.49,215.83 L136.92,214.00 L137.35,213.85 L137.78,215.48 L138.21,213.37 L138.64,215.20 L139.07,213.55 L139.50,213.93 L139.90,213.47 L140.30,215.20 L140.70,214.54 L141.10,213.95 L141.50,214.00 L141.90,215.44 L142.30,216.89 L142.70,214.99 L143.10,214.03 L143.50,214.70 L143.90,214.46 L144.30,215.53 L144.70,216.12 L145.10,214.98 L145.50,213.20 L145.90,213.48 L146.30,213.44 L146.70,213.42 L147.10,212.98 L147.50,215.12 L147.90,213.07 L148.30,213.25 L148.71,213.99 L149.13,214.24 L149.54,215.41 L149.96,214.20 L150.37,215.91 L150.79,217.66 L151.20,214.96 L151.64,215.20 L152.08,212.64 L152.52,209.74 L152.96,208.06 L153.40,209.34 L153.85,206.48 L154.30,208.59 L154.75,205.88 L155.20,206.67 L155.65,205.05 L156.10,206.82 L156.55,207.52 L157.00,205.00 L157.41,205.42 L157.83,205.90 L158.24,202.45 L158.66,202.21 L159.07,202.28 L159.49,201.90 L159.90,198.17 L160.31,199.85 L160.73,197.38 L161.14,197.05 L161.56,200.23 L161.97,196.20 L162.39,199.38 L162.80,198.40 L163.21,198.72 L163.63,199.55 L164.04,199.85 L164.46,199.01 L164.87,200.24 L165.29,199.89 L165.70,203.14 L166.11,202.40 L166.53,202.02 L166.94,199.31 L167.36,200.41 L167.77,198.65 L168.19,200.38 L168.60,199.78 L169.01,200.78 L169.43,199.63 L169.84,199.54 L170.26,199.91 L170.67,197.17 L171.09,199.18 L171.50,196.93 L171.93,199.94 L172.36,200.61 L172.79,205.61 L173.21,203.60 L173.64,208.84 L174.07,210.62 L174.50,210.24 L174.91,210.89 L175.33,206.82 L175.74,206.23 L176.16,204.77 L176.57,204.06 L176.99,202.85 L177.40,205.21 L177.81,201.74 L178.23,203.23 L178.64,201.45 L179.06,200.37 L179.47,201.01 L179.89,199.54 L180.30,202.21 L180.71,199.94 L181.13,200.88 L181.54,200.85 L181.96,201.21 L182.37,200.72 L182.79,199.98 L183.20,199.55 L183.64,203.27 L184.08,201.21 L184.52,202.95 L184.96,205.11 L185.40,204.90 L185.87,209.06 L186.33,211.17 L186.80,212.65 L187.24,210.66 L187.68,212.13 L188.12,211.23 L188.56,212.37 L189.00,210.62 L189.40,211.14 L189.80,211.47 L190.20,209.97 L190.60,211.32 L191.00,211.42 L191.40,208.30 L191.80,211.22 L192.20,210.89 L192.60,210.69 L193.00,208.49 L193.40,208.01 L193.81,207.53 L194.23,208.48 L194.64,210.42 L195.06,208.45 L195.47,207.02 L195.89,208.22 L196.30,207.33 L196.74,209.87 L197.18,210.83 L197.62,211.85 L198.06,208.88 L198.50,210.90" fill="none" stroke="#1a1aff" stroke-width="1.2" stroke-linejoin="round"/>
<path d="M51.30,269.58 L51.50,260.06 L52.07,260.05 L52.63,257.44 L53.20,257.34 L53.77,255.71 L54.33,253.76 L54.90,253.62 L55.43,251.67 L55.97,251.81 L56.50,250.12 L57.03,249.35 L57.57,249.34 L58.10,249.48 L58.63,245.63 L59.17,243.70 L59.70,242.51 L60.27,243.17 L60.83,242.19 L61.40,241.65 L61.93,243.23 L62.47,241.18 L63.00,243.31 L63.53,242.13 L64.07,241.96 L64.60,242.08 L65.14,242.36 L65.69,243.40 L66.23,241.70 L66.78,242.48 L67.32,242.44 L67.87,241.63 L68.41,241.87 L68.96,240.53 L69.50,240.34 L70.04,240.61 L70.59,241.66 L71.13,240.96 L71.68,240.60 L72.22,241.16 L72.77,240.75 L73.31,240.30 L73.86,241.40 L74.40,241.08 L74.93,240.07 L75.47,240.96 L76.00,240.93 L76.53,241.86 L77.07,241.60 L77.60,240.62 L78.13,242.37 L78.67,240.39 L79.20,241.20 L79.75,242.20 L80.30,240.93 L80.85,241.92 L81.40,241.03 L81.95,242.72 L82.50,243.13 L83.03,242.61 L83.57,243.27 L84.10,241.85 L84.63,242.70 L85.17,242.39 L85.70,242.29 L86.23,241.93 L86.77,242.78 L87.30,242.97 L87.84,241.90 L88.39,242.43 L88.93,241.05 L89.48,242.65 L90.02,242.59 L90.57,243.48 L91.11,243.14 L91.66,241.92 L92.20,242.23 L92.70,242.74 L93.20,241.02 L93.70,241.90 L94.20,241.03 L94.70,240.73 L95.20,240.43 L95.70,241.96 L96.20,240.26 L96.70,240.37 L97.20,240.55 L97.70,241.53 L98.20,239.46 L98.70,240.18 L99.20,240.32 L99.70,241.02 L100.20,240.77 L100.70,240.77 L101.20,239.27 L101.70,239.50 L102.20,239.26 L102.70,240.42 L103.20,240.50 L103.70,238.46 L104.20,238.42 L104.70,238.46 L105.20,238.36 L105.74,238.69 L106.29,238.66 L106.83,237.60 L107.38,236.70 L107.92,237.42 L108.47,237.02 L109.01,237.21 L109.56,237.87 L110.10,236.96 L110.63,236.77 L111.17,237.25 L111.70,237.62 L112.23,236.36 L112.77,238.63 L113.30,238.57 L113.83,239.03 L114.37,239.08 L114.90,238.34 L115.40,238.32 L115.90,237.57 L116.40,238.81 L116.90,237.40 L117.40,237.37 L117.90,237.67 L118.40,237.52 L118.90,237.91 L119.40,237.18 L119.90,237.02 L120.40,237.34 L120.90,237.18 L121.40,237.77 L121.91,236.96 L122.43,239.00 L122.94,238.37 L123.46,237.26 L123.97,237.51 L124.49,237.73 L125.00,237.77 L125.55,237.01 L126.10,238.56 L126.65,238.72 L127.20,237.27 L127.75,237.12 L128.30,235.98 L128.85,235.83 L129.40,236.22 L129.94,236.22 L130.47,237.76 L131.01,236.35 L131.55,236.21 L132.09,238.62 L132.62,237.79 L133.16,237.06 L133.70,238.20 L134.23,236.70 L134.75,237.64 L135.28,238.46 L135.81,237.92 L136.34,237.25 L136.86,235.94 L137.39,235.93 L137.92,235.19 L138.45,236.38 L138.97,235.54 L139.50,235.87 L140.05,234.60 L140.60,234.16 L141.15,235.39 L141.70,235.61 L142.25,235.11 L142.80,234.81 L143.35,234.65 L143.90,234.28 L144.45,232.59 L145.00,232.84 L145.55,232.00 L146.10,230.77 L146.65,230.32 L147.20,230.47 L147.75,229.97 L148.30,230.56 L148.83,231.32 L149.35,230.23 L149.88,231.53 L150.41,231.78 L150.94,231.83 L151.46,230.54 L151.99,230.32 L152.52,230.46 L153.05,230.52 L153.57,230.66 L154.10,231.80 L154.63,232.13 L155.15,231.66 L155.68,230.47 L156.21,230.56 L156.74,230.58 L157.26,228.54 L157.79,229.59 L158.32,229.87 L158.85,229.23 L159.37,228.83 L159.90,227.85 L160.45,226.95 L161.00,228.24 L161.55,226.97 L162.10,227.92 L162.65,228.16 L163.20,226.60 L163.75,226.44 L164.30,227.57 L164.84,226.49 L165.38,224.61 L165.91,223.95 L166.45,223.46 L166.99,224.72 L167.53,223.94 L168.06,221.80 L168.60,222.88 L169.18,222.53 L169.76,221.04 L170.34,219.58 L170.92,219.34 L171.50,217.61 L172.04,217.40 L172.57,219.76 L173.11,219.05 L173.65,218.82 L174.18,219.86 L174.72,218.72 L175.25,219.84 L175.79,219.79 L176.33,218.38 L176.86,218.54 L177.40,218.70 L177.98,218.72 L178.56,219.69 L179.14,219.04 L179.72,219.57 L180.30,219.01 L180.88,220.44 L181.46,218.67 L182.04,218.48 L182.62,218.34 L183.20,218.67 L183.75,216.78 L184.30,217.25 L184.85,215.53 L185.40,214.88 L186.10,213.76 L186.80,211.44 L187.35,213.93 L187.90,214.79 L188.45,215.83 L189.00,219.22 L189.58,218.13 L190.16,219.28 L190.74,220.30 L191.32,220.32 L191.90,220.18 L192.48,220.50 L193.06,220.45 L193.64,220.86 L194.22,219.09 L194.80,220.04 L195.33,218.98 L195.86,218.74 L196.39,219.61 L196.91,218.66 L197.44,218.48 L197.97,218.64 L198.50,217.70" fill="none" stroke="#ff2020" stroke-width="1.2" stroke-linejoin="round"/>
<line x1="203.90" y1="179.70" x2="214.40" y2="179.70" stroke="#6060ff" stroke-width="1.1"/>
<line x1="203.90" y1="197.70" x2="214.40" y2="197.70" stroke="#ff4040" stroke-width="1.1"/>
<text x="220.30" y="182.50" font-size="8" font-weight="normal" text-anchor="start" >Wild-type</text>
<text x="220.30" y="195.70" font-size="8" font-weight="normal" text-anchor="start" >S148C-T206C/</text>
<text x="220.30" y="205.50" font-size="8" font-weight="normal" text-anchor="start" >D225C-A328C</text>
<text x="284.40" y="171.10" font-size="13.6" font-weight="bold" text-anchor="start" >D</text>
<line x1="322.60" y1="174.50" x2="322.60" y2="273.00" stroke="#262626" stroke-width="1.3"/>
<line x1="318.80" y1="273.00" x2="322.60" y2="273.00" stroke="#262626" stroke-width="1.3"/>
<text x="317.70" y="275.50" font-size="7.2" font-weight="bold" text-anchor="end" >0</text>
<line x1="318.80" y1="253.30" x2="322.60" y2="253.30" stroke="#262626" stroke-width="1.3"/>
<text x="317.70" y="255.80" font-size="7.2" font-weight="bold" text-anchor="end" >5</text>
<line x1="318.80" y1="233.60" x2="322.60" y2="233.60" stroke="#262626" stroke-width="1.3"/>
<text x="317.70" y="236.10" font-size="7.2" font-weight="bold" text-anchor="end" >10</text>
<line x1="318.80" y1="213.90" x2="322.60" y2="213.90" stroke="#262626" stroke-width="1.3"/>
<text x="317.70" y="216.40" font-size="7.2" font-weight="bold" text-anchor="end" >15</text>
<line x1="318.80" y1="194.20" x2="322.60" y2="194.20" stroke="#262626" stroke-width="1.3"/>
<text x="317.70" y="196.70" font-size="7.2" font-weight="bold" text-anchor="end" >20</text>
<line x1="318.80" y1="174.50" x2="322.60" y2="174.50" stroke="#262626" stroke-width="1.3"/>
<text x="317.70" y="177.00" font-size="7.2" font-weight="bold" text-anchor="end" >25</text>
<rect x="323.80" y="272.21" width="2.3" height="0.79" fill="#ff3333"/>
<rect x="335.32" y="272.21" width="2.3" height="0.79" fill="#0000ff"/>
<rect x="351.76" y="269.85" width="2.3" height="3.15" fill="#0000ff"/>
<rect x="356.68" y="268.67" width="2.3" height="4.33" fill="#ff3333"/>
<rect x="359.98" y="238.72" width="2.3" height="34.28" fill="#0000ff"/>
<rect x="364.90" y="249.36" width="2.3" height="23.64" fill="#ff3333"/>
<rect x="368.20" y="196.17" width="2.3" height="76.83" fill="#0000ff"/>
<rect x="373.12" y="236.75" width="2.3" height="36.25" fill="#ff3333"/>
<rect x="376.42" y="199.72" width="2.3" height="73.28" fill="#0000ff"/>
<rect x="381.34" y="243.84" width="2.3" height="29.16" fill="#ff3333"/>
<rect x="384.64" y="230.84" width="2.3" height="42.16" fill="#0000ff"/>
<rect x="389.56" y="228.48" width="2.3" height="44.52" fill="#ff3333"/>
<rect x="392.86" y="245.81" width="2.3" height="27.19" fill="#0000ff"/>
<rect x="397.78" y="220.60" width="2.3" height="52.40" fill="#ff3333"/>
<rect x="401.08" y="256.06" width="2.3" height="16.94" fill="#0000ff"/>
<rect x="406.00" y="215.87" width="2.3" height="57.13" fill="#ff3333"/>
<rect x="409.30" y="245.81" width="2.3" height="27.19" fill="#0000ff"/>
<rect x="414.22" y="227.69" width="2.3" height="45.31" fill="#ff3333"/>
<rect x="417.52" y="248.18" width="2.3" height="24.82" fill="#0000ff"/>
<rect x="422.44" y="226.90" width="2.3" height="46.10" fill="#ff3333"/>
<rect x="425.74" y="241.87" width="2.3" height="31.13" fill="#0000ff"/>
<rect x="430.66" y="255.27" width="2.3" height="17.73" fill="#ff3333"/>
<rect x="433.96" y="258.42" width="2.3" height="14.58" fill="#0000ff"/>
<rect x="438.88" y="259.60" width="2.3" height="13.40" fill="#ff3333"/>
<rect x="442.18" y="263.15" width="2.3" height="9.85" fill="#0000ff"/>
<rect x="447.10" y="258.42" width="2.3" height="14.58" fill="#ff3333"/>
<rect x="455.32" y="269.06" width="2.3" height="3.94" fill="#ff3333"/>
<rect x="463.54" y="271.82" width="2.3" height="1.18" fill="#ff3333"/>
<line x1="322.60" y1="273.00" x2="470.60" y2="273.00" stroke="#262626" stroke-width="1.3"/>
<line x1="326.50" y1="273.00" x2="326.50" y2="276.60" stroke="#262626" stroke-width="1.3"/>
<line x1="334.72" y1="273.00" x2="334.72" y2="276.60" stroke="#262626" stroke-width="1.3"/>
<line x1="342.94" y1="273.00" x2="342.94" y2="276.60" stroke="#262626" stroke-width="1.3"/>
<line x1="351.16" y1="273.00" x2="351.16" y2="276.60" stroke="#262626" stroke-width="1.3"/>
<line x1="359.38" y1="273.00" x2="359.38" y2="276.60" stroke="#262626" stroke-width="1.3"/>
<line x1="367.60" y1="273.00" x2="367.60" y2="276.60" stroke="#262626" stroke-width="1.3"/>
<line x1="375.82" y1="273.00" x2="375.82" y2="276.60" stroke="#262626" stroke-width="1.3"/>
<line x1="384.04" y1="273.00" x2="384.04" y2="276.60" stroke="#262626" stroke-width="1.3"/>
<line x1="392.26" y1="273.00" x2="392.26" y2="276.60" stroke="#262626" stroke-width="1.3"/>
<line x1="400.48" y1="273.00" x2="400.48" y2="276.60" stroke="#262626" stroke-width="1.3"/>
<line x1="408.70" y1="273.00" x2="408.70" y2="276.60" stroke="#262626" stroke-width="1.3"/>
<line x1="416.92" y1="273.00" x2="416.92" y2="276.60" stroke="#262626" stroke-width="1.3"/>
<line x1="425.14" y1="273.00" x2="425.14" y2="276.60" stroke="#262626" stroke-width="1.3"/>
<line x1="433.36" y1="273.00" x2="433.36" y2="276.60" stroke="#262626" stroke-width="1.3"/>
<line x1="441.58" y1="273.00" x2="441.58" y2="276.60" stroke="#262626" stroke-width="1.3"/>
<line x1="449.80" y1="273.00" x2="449.80" y2="276.60" stroke="#262626" stroke-width="1.3"/>
<line x1="458.02" y1="273.00" x2="458.02" y2="276.60" stroke="#262626" stroke-width="1.3"/>
<line x1="466.24" y1="273.00" x2="466.24" y2="276.60" stroke="#262626" stroke-width="1.3"/>
<text x="0" y="0" font-size="6.9" font-weight="bold" text-anchor="end" transform="translate(328.40,284.00) rotate(-45)">2.26</text>
<text x="0" y="0" font-size="6.9" font-weight="bold" text-anchor="end" transform="translate(336.62,284.00) rotate(-45)">2.28</text>
<text x="0" y="0" font-size="6.9" font-weight="bold" text-anchor="end" transform="translate(344.84,284.00) rotate(-45)">2.30</text>
<text x="0" y="0" font-size="6.9" font-weight="bold" text-anchor="end" transform="translate(353.06,284.00) rotate(-45)">2.32</text>
<text x="0" y="0" font-size="6.9" font-weight="bold" text-anchor="end" transform="translate(361.28,284.00) rotate(-45)">2.34</text>
<text x="0" y="0" font-size="6.9" font-weight="bold" text-anchor="end" transform="translate(369.50,284.00) rotate(-45)">2.36</text>
<text x="0" y="0" font-size="6.9" font-weight="bold" text-anchor="end" transform="translate(377.72,284.00) rotate(-45)">2.38</text>
<text x="0" y="0" font-size="6.9" font-weight="bold" text-anchor="end" transform="translate(385.94,284.00) rotate(-45)">2.40</text>
<text x="0" y="0" font-size="6.9" font-weight="bold" text-anchor="end" transform="translate(394.16,284.00) rotate(-45)">2.42</text>
<text x="0" y="0" font-size="6.9" font-weight="bold" text-anchor="end" transform="translate(402.38,284.00) rotate(-45)">2.44</text>
<text x="0" y="0" font-size="6.9" font-weight="bold" text-anchor="end" transform="translate(410.60,284.00) rotate(-45)">2.46</text>
<text x="0" y="0" font-size="6.9" font-weight="bold" text-anchor="end" transform="translate(418.82,284.00) rotate(-45)">2.48</text>
<text x="0" y="0" font-size="6.9" font-weight="bold" text-anchor="end" transform="translate(427.04,284.00) rotate(-45)">2.50</text>
<text x="0" y="0" font-size="6.9" font-weight="bold" text-anchor="end" transform="translate(435.26,284.00) rotate(-45)">2.52</text>
<text x="0" y="0" font-size="6.9" font-weight="bold" text-anchor="end" transform="translate(443.48,284.00) rotate(-45)">2.54</text>
<text x="0" y="0" font-size="6.9" font-weight="bold" text-anchor="end" transform="translate(451.70,284.00) rotate(-45)">2.56</text>
<text x="0" y="0" font-size="6.9" font-weight="bold" text-anchor="end" transform="translate(459.92,284.00) rotate(-45)">2.58</text>
<text x="0" y="0" font-size="6.9" font-weight="bold" text-anchor="end" transform="translate(468.14,284.00) rotate(-45)">2.60</text>
<text x="396.80" y="305.00" font-size="8" font-weight="bold" text-anchor="middle" >Rg (nm)</text>
<text x="0" y="0" font-size="8.1" font-weight="bold" text-anchor="middle" transform="translate(303.40,223.80) rotate(-90)">Relative frequency (%)</text>
<rect x="467.9" y="178.9" width="10.9" height="4.9" fill="#ff3333"/>
<rect x="467.9" y="196.9" width="10.9" height="4.9" fill="#0000ff"/>
<text x="484.90" y="184.00" font-size="8" font-weight="normal" text-anchor="start" >Wild-type</text>
<text x="484.90" y="197.40" font-size="8" font-weight="normal" text-anchor="start" >S148C-T206C</text>
<text x="484.90" y="206.20" font-size="8" font-weight="normal" text-anchor="start" >/D225C-A328C</text>
<text x="9.20" y="324.10" font-size="13.6" font-weight="bold" text-anchor="start" >E</text>
<line x1="51.10" y1="323.20" x2="51.10" y2="422.30" stroke="#262626" stroke-width="1.3"/>
<line x1="47.30" y1="422.30" x2="51.10" y2="422.30" stroke="#262626" stroke-width="1.3"/>
<text x="45.80" y="425.20" font-size="7.2" font-weight="bold" text-anchor="end" >0</text>
<line x1="47.30" y1="402.48" x2="51.10" y2="402.48" stroke="#262626" stroke-width="1.3"/>
<text x="45.80" y="405.38" font-size="7.2" font-weight="bold" text-anchor="end" >5</text>
<line x1="47.30" y1="382.65" x2="51.10" y2="382.65" stroke="#262626" stroke-width="1.3"/>
<text x="45.80" y="385.55" font-size="7.2" font-weight="bold" text-anchor="end" >10</text>
<line x1="47.30" y1="362.83" x2="51.10" y2="362.83" stroke="#262626" stroke-width="1.3"/>
<text x="45.80" y="365.73" font-size="7.2" font-weight="bold" text-anchor="end" >15</text>
<line x1="47.30" y1="343.00" x2="51.10" y2="343.00" stroke="#262626" stroke-width="1.3"/>
<text x="45.80" y="345.90" font-size="7.2" font-weight="bold" text-anchor="end" >20</text>
<line x1="47.30" y1="323.18" x2="51.10" y2="323.18" stroke="#262626" stroke-width="1.3"/>
<text x="45.80" y="326.07" font-size="7.2" font-weight="bold" text-anchor="end" >25</text>
<rect x="52.00" y="421.90" width="2.3" height="0.40" fill="#ff3333"/>
<rect x="55.30" y="421.90" width="2.3" height="0.40" fill="#0000ff"/>
<rect x="88.22" y="419.92" width="2.3" height="2.38" fill="#0000ff"/>
<rect x="93.15" y="420.71" width="2.3" height="1.59" fill="#ff3333"/>
<rect x="96.45" y="397.32" width="2.3" height="24.98" fill="#0000ff"/>
<rect x="101.38" y="417.15" width="2.3" height="5.15" fill="#ff3333"/>
<rect x="104.68" y="366.39" width="2.3" height="55.91" fill="#0000ff"/>
<rect x="109.61" y="407.23" width="2.3" height="15.07" fill="#ff3333"/>
<rect x="112.91" y="331.90" width="2.3" height="90.40" fill="#0000ff"/>
<rect x="117.84" y="378.29" width="2.3" height="44.01" fill="#ff3333"/>
<rect x="121.14" y="338.24" width="2.3" height="84.06" fill="#0000ff"/>
<rect x="126.07" y="366.00" width="2.3" height="56.30" fill="#ff3333"/>
<rect x="129.37" y="373.53" width="2.3" height="48.77" fill="#0000ff"/>
<rect x="134.30" y="354.10" width="2.3" height="68.20" fill="#ff3333"/>
<rect x="137.60" y="394.94" width="2.3" height="27.36" fill="#0000ff"/>
<rect x="142.53" y="363.22" width="2.3" height="59.08" fill="#ff3333"/>
<rect x="145.83" y="391.77" width="2.3" height="30.53" fill="#0000ff"/>
<rect x="150.76" y="366.79" width="2.3" height="55.51" fill="#ff3333"/>
<rect x="154.06" y="413.18" width="2.3" height="9.12" fill="#0000ff"/>
<rect x="158.99" y="385.82" width="2.3" height="36.48" fill="#ff3333"/>
<rect x="162.29" y="416.35" width="2.3" height="5.95" fill="#0000ff"/>
<rect x="167.22" y="382.25" width="2.3" height="40.05" fill="#ff3333"/>
<rect x="170.52" y="413.58" width="2.3" height="8.72" fill="#0000ff"/>
<rect x="175.45" y="415.16" width="2.3" height="7.14" fill="#ff3333"/>
<rect x="178.75" y="418.93" width="2.3" height="3.37" fill="#0000ff"/>
<rect x="183.68" y="418.34" width="2.3" height="3.96" fill="#ff3333"/>
<rect x="186.98" y="420.71" width="2.3" height="1.59" fill="#0000ff"/>
<rect x="191.91" y="421.51" width="2.3" height="0.79" fill="#ff3333"/>
<line x1="51.10" y1="422.30" x2="199.40" y2="422.30" stroke="#262626" stroke-width="1.3"/>
<line x1="54.70" y1="422.30" x2="54.70" y2="425.90" stroke="#262626" stroke-width="1.3"/>
<line x1="62.93" y1="422.30" x2="62.93" y2="425.90" stroke="#262626" stroke-width="1.3"/>
<line x1="71.16" y1="422.30" x2="71.16" y2="425.90" stroke="#262626" stroke-width="1.3"/>
<line x1="79.39" y1="422.30" x2="79.39" y2="425.90" stroke="#262626" stroke-width="1.3"/>
<line x1="87.62" y1="422.30" x2="87.62" y2="425.90" stroke="#262626" stroke-width="1.3"/>
<line x1="95.85" y1="422.30" x2="95.85" y2="425.90" stroke="#262626" stroke-width="1.3"/>
<line x1="104.08" y1="422.30" x2="104.08" y2="425.90" stroke="#262626" stroke-width="1.3"/>
<line x1="112.31" y1="422.30" x2="112.31" y2="425.90" stroke="#262626" stroke-width="1.3"/>
<line x1="120.54" y1="422.30" x2="120.54" y2="425.90" stroke="#262626" stroke-width="1.3"/>
<line x1="128.77" y1="422.30" x2="128.77" y2="425.90" stroke="#262626" stroke-width="1.3"/>
<line x1="137.00" y1="422.30" x2="137.00" y2="425.90" stroke="#262626" stroke-width="1.3"/>
<line x1="145.23" y1="422.30" x2="145.23" y2="425.90" stroke="#262626" stroke-width="1.3"/>
<line x1="153.46" y1="422.30" x2="153.46" y2="425.90" stroke="#262626" stroke-width="1.3"/>
<line x1="161.69" y1="422.30" x2="161.69" y2="425.90" stroke="#262626" stroke-width="1.3"/>
<line x1="169.92" y1="422.30" x2="169.92" y2="425.90" stroke="#262626" stroke-width="1.3"/>
<line x1="178.15" y1="422.30" x2="178.15" y2="425.90" stroke="#262626" stroke-width="1.3"/>
<line x1="186.38" y1="422.30" x2="186.38" y2="425.90" stroke="#262626" stroke-width="1.3"/>
<line x1="194.61" y1="422.30" x2="194.61" y2="425.90" stroke="#262626" stroke-width="1.3"/>
<text x="0" y="0" font-size="6.9" font-weight="bold" text-anchor="end" transform="translate(56.60,433.30) rotate(-45)">205</text>
<text x="0" y="0" font-size="6.9" font-weight="bold" text-anchor="end" transform="translate(64.83,433.30) rotate(-45)">210</text>
<text x="0" y="0" font-size="6.9" font-weight="bold" text-anchor="end" transform="translate(73.06,433.30) rotate(-45)">215</text>
<text x="0" y="0" font-size="6.9" font-weight="bold" text-anchor="end" transform="translate(81.29,433.30) rotate(-45)">220</text>
<text x="0" y="0" font-size="6.9" font-weight="bold" text-anchor="end" transform="translate(89.52,433.30) rotate(-45)">225</text>
<text x="0" y="0" font-size="6.9" font-weight="bold" text-anchor="end" transform="translate(97.75,433.30) rotate(-45)">230</text>
<text x="0" y="0" font-size="6.9" font-weight="bold" text-anchor="end" transform="translate(105.98,433.30) rotate(-45)">235</text>
<text x="0" y="0" font-size="6.9" font-weight="bold" text-anchor="end" transform="translate(114.21,433.30) rotate(-45)">240</text>
<text x="0" y="0" font-size="6.9" font-weight="bold" text-anchor="end" transform="translate(122.44,433.30) rotate(-45)">245</text>
<text x="0" y="0" font-size="6.9" font-weight="bold" text-anchor="end" transform="translate(130.67,433.30) rotate(-45)">250</text>
<text x="0" y="0" font-size="6.9" font-weight="bold" text-anchor="end" transform="translate(138.90,433.30) rotate(-45)">255</text>
<text x="0" y="0" font-size="6.9" font-weight="bold" text-anchor="end" transform="translate(147.13,433.30) rotate(-45)">260</text>
<text x="0" y="0" font-size="6.9" font-weight="bold" text-anchor="end" transform="translate(155.36,433.30) rotate(-45)">265</text>
<text x="0" y="0" font-size="6.9" font-weight="bold" text-anchor="end" transform="translate(163.59,433.30) rotate(-45)">270</text>
<text x="0" y="0" font-size="6.9" font-weight="bold" text-anchor="end" transform="translate(171.82,433.30) rotate(-45)">275</text>
<text x="0" y="0" font-size="6.9" font-weight="bold" text-anchor="end" transform="translate(180.05,433.30) rotate(-45)">280</text>
<text x="0" y="0" font-size="6.9" font-weight="bold" text-anchor="end" transform="translate(188.28,433.30) rotate(-45)">285</text>
<text x="0" y="0" font-size="6.9" font-weight="bold" text-anchor="end" transform="translate(196.51,433.30) rotate(-45)">290</text>
<text x="124.2" y="455.2" font-size="7.7" font-weight="bold" text-anchor="middle">SASA (nm<tspan font-size="5.3" dy="-3">2</tspan><tspan dy="3">/residue)</tspan></text>
<text x="0" y="0" font-size="8.15" font-weight="bold" text-anchor="middle" transform="translate(31.90,372.60) rotate(-90)">Relative frequency (%)</text>
<rect x="196.1" y="328.4" width="10.6" height="4.8" fill="#ff3333"/>
<rect x="196.1" y="346.1" width="10.6" height="4.8" fill="#0000ff"/>
<text x="212.60" y="333.40" font-size="8" font-weight="normal" text-anchor="start" >Wild-type</text>
<text x="212.60" y="347.20" font-size="8" font-weight="normal" text-anchor="start" >S148C-T206C</text>
<text x="212.60" y="356.00" font-size="8" font-weight="normal" text-anchor="start" >/D225C-A328C</text>
</svg></body></html>
